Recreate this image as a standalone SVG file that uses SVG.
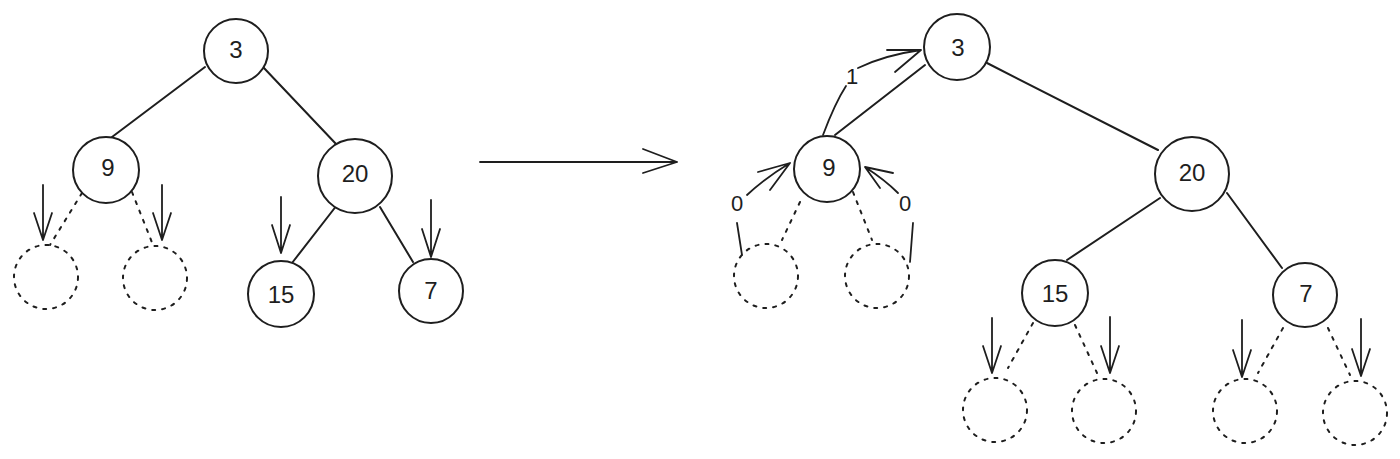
<svg xmlns="http://www.w3.org/2000/svg" width="1400" height="459" viewBox="0 0 1400 459">
<style>
.n{fill:#fff;stroke:#1e1e1e;stroke-width:2}
.d{fill:none;stroke:#1e1e1e;stroke-width:2;stroke-dasharray:3 7;stroke-linecap:round}
.e{fill:none;stroke:#1e1e1e;stroke-width:2;stroke-linecap:round}
.a{fill:none;stroke:#1e1e1e;stroke-width:1.8;stroke-linecap:round;stroke-linejoin:round}
.t{font-family:"Liberation Sans",sans-serif;font-size:24px;fill:#1e1e1e;text-anchor:middle;dominant-baseline:central}
.s{font-size:22px}
</style>
<g id="connectors">
<line class="e" x1="205" y1="67" x2="112" y2="137"/>
<line class="e" x1="263" y1="67" x2="337" y2="145"/>
<line class="e" x1="337" y1="205" x2="292" y2="263"/>
<line class="e" x1="380" y1="207" x2="413" y2="262"/>
<line class="d" x1="82" y1="193" x2="50" y2="245"/>
<line class="d" x1="132" y1="192" x2="153" y2="245"/>
<path class="a" d="M43 185V240M34 213L43 240L52 213"/>
<path class="a" d="M162 185V240M153 213L162 240L171 213"/>
<path class="a" d="M281 197V253M272 225L281 253L290 225"/>
<path class="a" d="M431 200V257M422 229L431 257L440 229"/>
<path class="a" d="M480 162H677M643 149L677 162L643 173"/>
<line class="e" x1="925" y1="65" x2="835" y2="135"/>
<line class="e" x1="987" y1="63" x2="1158" y2="150"/>
<line class="e" x1="1160" y1="198" x2="1067" y2="260"/>
<line class="e" x1="1227" y1="193" x2="1282" y2="268"/>
<line class="d" x1="800" y1="202" x2="782" y2="240"/>
<line class="d" x1="853" y1="192" x2="872" y2="240"/>
<line class="d" x1="1033" y1="323" x2="1008" y2="368"/>
<line class="d" x1="1075" y1="325" x2="1097" y2="373"/>
<line class="d" x1="1283" y1="328" x2="1258" y2="373"/>
<line class="d" x1="1328" y1="328" x2="1350" y2="375"/>
<path class="a" d="M992 318V373M983 346L992 373L1001 346"/>
<path class="a" d="M1110 317V373M1101 346L1110 373L1119 346"/>
<path class="a" d="M1242 320V377M1233 350L1242 377L1251 350"/>
<path class="a" d="M1361 319V376M1352 349L1361 376L1370 349"/>
<path class="a" d="M823 135Q835 103 846 86M858 68Q885 55 921 50M887 50L921 50L895 72"/>
<path class="a" d="M747 195Q765 178 790 163M758 172L790 163L770 190"/>
<path class="a" d="M898 193Q885 180 865 167M893 173L865 167L880 188"/>
<path class="a" d="M737 223L742 255"/>
<path class="a" d="M913 223L910 262"/>
<text class="t s" x="852" y="76">1</text>
<text class="t s" x="737" y="203">0</text>
<text class="t s" x="905" y="203">0</text>
</g>
<g id="l3"><circle class="n" cx="236" cy="51" r="32"/><text class="t" x="236" y="49">3</text></g>
<g id="l9"><circle class="n" cx="106" cy="170" r="33"/><text class="t" x="108" y="167">9</text></g>
<g id="l20"><circle class="n" cx="355" cy="176" r="37"/><text class="t" x="355" y="173">20</text></g>
<g id="l15"><circle class="n" cx="281" cy="294" r="33"/><text class="t" x="281" y="294">15</text></g>
<g id="l7"><circle class="n" cx="431" cy="291" r="32"/><text class="t" x="431" y="290">7</text></g>
<g id="lnull1"><circle class="d" cx="46" cy="277" r="32"/></g>
<g id="lnull2"><circle class="d" cx="155" cy="278" r="32"/></g>
<g id="r3"><circle class="n" cx="957" cy="47" r="33"/><text class="t" x="958" y="47">3</text></g>
<g id="r9"><circle class="n" cx="827" cy="169" r="33"/><text class="t" x="829" y="167">9</text></g>
<g id="r20"><circle class="n" cx="1192" cy="174" r="37"/><text class="t" x="1192" y="172">20</text></g>
<g id="r15"><circle class="n" cx="1055" cy="293" r="33"/><text class="t" x="1055" y="293">15</text></g>
<g id="r7"><circle class="n" cx="1305" cy="295" r="32"/><text class="t" x="1306" y="293">7</text></g>
<g id="rnull1"><circle class="d" cx="766" cy="276" r="32"/></g>
<g id="rnull2"><circle class="d" cx="877" cy="276" r="32"/></g>
<g id="rnull3"><circle class="d" cx="995" cy="410" r="32"/></g>
<g id="rnull4"><circle class="d" cx="1104" cy="411" r="32"/></g>
<g id="rnull5"><circle class="d" cx="1245" cy="411" r="32"/></g>
<g id="rnull6"><circle class="d" cx="1355" cy="413" r="32"/></g>
</svg>
